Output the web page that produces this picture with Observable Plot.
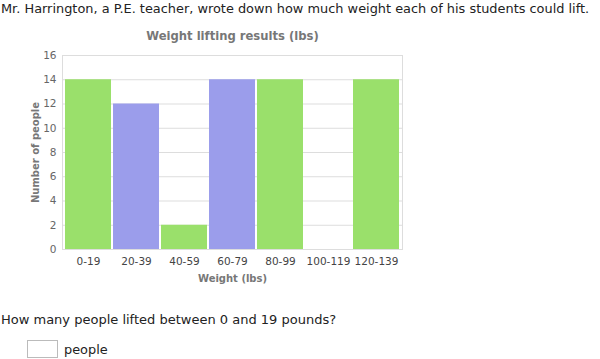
<!DOCTYPE html>
<html>
<head>
<meta charset="utf-8">
<script src="https://cdn.jsdelivr.net/npm/d3@7"></script>
<script src="https://cdn.jsdelivr.net/npm/@observablehq/plot@0.6"></script>
<style>
  body { margin: 0; background: #fff; font-family: "DejaVu Sans", Verdana, sans-serif; color: #222; width: 600px; height: 359px; overflow: hidden; position: relative; }
  #header { position: absolute; left: 1px; top: 1px; font-size: 12.9px; white-space: nowrap; }
  #chart { position: absolute; left: 0; top: 20px; }
  #question { position: absolute; left: 1px; top: 312px; font-size: 13px; white-space: nowrap; }
  #answer { position: absolute; left: 27px; top: 340px; font-size: 12.9px; display: flex; align-items: center; }
  #answer .box { width: 29px; height: 16px; border: 1px solid #bbb; margin-right: 6px; }
</style>
</head>
<body>
<div id="header">Mr. Harrington, a P.E. teacher, wrote down how much weight each of his students could lift.</div>
<div id="chart"></div>
<div id="question">How many people lifted between 0 and 19 pounds?</div>
<div id="answer"><div class="box"></div><span>people</span></div>
<script>
const categories = ["0-19", "20-39", "40-59", "60-79", "80-99", "100-119", "120-139"];
const counts = [14, 12, 2, 14, 14, 0, 14];
const barColors = ["#9ae06b", "#9b9deb", "#9ae06b", "#9b9deb", "#9ae06b", "#9b9deb", "#9ae06b"];
const yTicks = [0, 2, 4, 6, 8, 10, 12, 14, 16];
const chartTitle = "Weight lifting results (lbs)";

const data = categories.map((c, i) => ({category: c, count: counts[i], color: barColors[i]}));

const chart = Plot.plot({
  width: 600,
  height: 270,
  marginLeft: 62,
  marginRight: 198,
  marginTop: 35,
  marginBottom: 41,
  style: {fontFamily: "DejaVu Sans, Verdana, sans-serif", fontSize: "10px", color: "#666", background: "#fff"},
  x: {domain: categories, paddingInner: 0.04, paddingOuter: 0.01, label: null},
  y: {domain: [0, 16], ticks: yTicks, label: null},
  marks: [
    Plot.gridY(yTicks, {stroke: "#dddddd", strokeOpacity: 1, strokeWidth: 1}),
    Plot.frame({stroke: "#dddddd", strokeOpacity: 1}),
    Plot.barY(data, {x: "category", y: "count", fill: "color"}),
    Plot.axisY(yTicks, {tickSize: 0, tickPadding: 6, fill: "#666", fontSize: 10.5, label: null}),
    Plot.axisX({tickSize: 0, tickPadding: 8, fill: "#444", fontSize: 10.5, label: null}),
    Plot.text([chartTitle], {frameAnchor: "top", dy: -24, fontWeight: "bold", fontSize: 11.6, fill: "#777"}),
    Plot.text(["Weight (lbs)"], {frameAnchor: "bottom", dy: 32, fontWeight: "bold", fontSize: 10, fill: "#777"}),
    Plot.text(["Number of people"], {frameAnchor: "left", textAnchor: "middle", dx: -27, rotate: -90, fontWeight: "bold", fontSize: 10, fill: "#777"})
  ]
});
document.getElementById("chart").appendChild(chart);
</script>
</body>
</html>
